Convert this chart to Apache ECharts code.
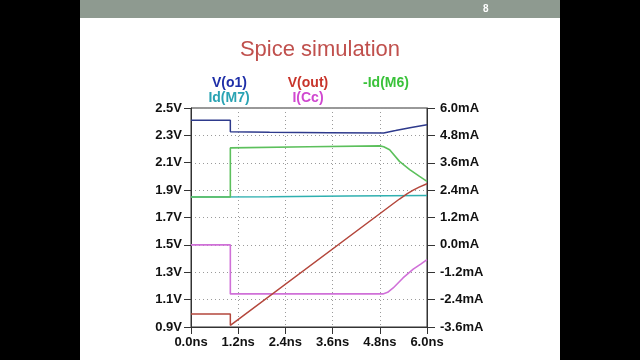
<!DOCTYPE html>
<html>
<head>
<meta charset="utf-8">
<script src="https://cdn.jsdelivr.net/npm/echarts@6/dist/echarts.min.js"></script>
<style>
html,body{margin:0;padding:0;background:#000;}
#c{width:640px;height:360px;}
</style>
</head>
<body>
<div id="c"></div>
<script>
// ---- data (time in ns) ----
const xTicks = [0, 1.2, 2.4, 3.6, 4.8, 6.0];
const leftTicks = [0.9, 1.1, 1.3, 1.5, 1.7, 1.9, 2.1, 2.3, 2.5];      // V
const rightTicks = [-3.6, -2.4, -1.2, 0.0, 1.2, 2.4, 3.6, 4.8, 6.0];  // mA

// V(o1) [V]
const vo1T = [0, 1.0, 1.0, 2.0, 3.5, 4.9, 5.2, 5.6, 6.0];
const vo1V = [2.41, 2.41, 2.327, 2.322, 2.32, 2.318, 2.335, 2.358, 2.378];
// V(out) [V]
const voutT = [0, 1.0, 1.0, 5.3, 5.5, 5.65, 5.8, 6.0];
const voutV = [0.995, 0.995, 0.912, 1.835, 1.875, 1.90, 1.922, 1.947];
// -Id(M6) [mA]
const m6T = [0, 1.0, 1.0, 3.0, 4.8, 4.9, 5.05, 5.3, 5.56, 5.81, 6.0];
const m6V = [2.10, 2.10, 4.25, 4.30, 4.34, 4.30, 4.17, 3.66, 3.30, 3.00, 2.78];
// Id(M7) [mA]
const m7T = [0, 2.0, 4.0, 6.0];
const m7V = [2.10, 2.11, 2.14, 2.16];
// I(Cc) [mA]
const ccT = [0, 1.0, 1.0, 4.88, 5.0, 5.14, 5.39, 5.65, 5.85, 6.0];
const ccV = [0.0, 0.0, -2.15, -2.15, -2.08, -1.89, -1.45, -1.06, -0.83, -0.65];

const legendNames = ['V(o1)', 'Id(M7)', 'V(out)', 'I(Cc)', '-Id(M6)'];

function pairs(t, v) { return t.map((x, i) => [x, v[i]]); }

const FONT = '"Liberation Sans", Arial, sans-serif';
const chart = echarts.init(document.getElementById('c'), null, {renderer: 'canvas'});

const axisLabelStyle = {color: '#111', fontFamily: FONT, fontSize: 13, fontWeight: 'bold'};

chart.setOption({
  animation: false,
  backgroundColor: '#000',
  title: {
    text: 'Spice simulation',
    left: 'center',
    top: 34,
    textStyle: {color: '#c0504d', fontFamily: FONT, fontSize: 22, fontWeight: 'normal'}
  },
  graphic: [
    {type: 'rect', z: -10, shape: {x: 80, y: 0, width: 480, height: 360}, style: {fill: '#ffffff'}, silent: true},
    {type: 'rect', z: -9, shape: {x: 80, y: 0, width: 480, height: 18}, style: {fill: '#8e9a90'}, silent: true},
    {type: 'text', z: 10, left: 483, top: 4, style: {text: '8', fill: '#fff', font: 'bold 10px ' + FONT}},
    {type: 'text', z: 10, x: 229.5, y: 83, style: {text: legendNames[0], fill: '#1f2fa8', font: 'bold 14px ' + FONT, textAlign: 'center', textVerticalAlign: 'middle'}},
    {type: 'text', z: 10, x: 229, y: 98.5, style: {text: legendNames[1], fill: '#2aa3b3', font: 'bold 14px ' + FONT, textAlign: 'center', textVerticalAlign: 'middle'}},
    {type: 'text', z: 10, x: 308, y: 83, style: {text: legendNames[2], fill: '#c8352b', font: 'bold 14px ' + FONT, textAlign: 'center', textVerticalAlign: 'middle'}},
    {type: 'text', z: 10, x: 308, y: 98.5, style: {text: legendNames[3], fill: '#d048d0', font: 'bold 14px ' + FONT, textAlign: 'center', textVerticalAlign: 'middle'}},
    {type: 'text', z: 10, x: 386, y: 83, style: {text: legendNames[4], fill: '#3ac23a', font: 'bold 14px ' + FONT, textAlign: 'center', textVerticalAlign: 'middle'}}
  ],
  grid: {
    left: 191, right: 213, top: 108, bottom: 33,
    show: true, borderColor: '#333', borderWidth: 1, backgroundColor: 'transparent'
  },
  xAxis: {
    type: 'value', min: 0, max: 6, interval: 1.2,
    axisLine: {show: true, onZero: false, lineStyle: {color: '#333', width: 1}},
    axisTick: {show: true, length: 7, lineStyle: {color: '#333'}},
    axisLabel: Object.assign({margin: 9, formatter: v => v.toFixed(1) + 'ns'}, axisLabelStyle),
    splitLine: {show: true, lineStyle: {color: '#9a9a9a', type: [1, 3], width: 1}}
  },
  yAxis: [
    {
      type: 'value', min: 0.9, max: 2.5, position: 'left',
      axisLine: {show: true, onZero: false, lineStyle: {color: '#333', width: 1}},
      axisTick: {show: true, length: 7, customValues: leftTicks, lineStyle: {color: '#333'}},
      axisLabel: Object.assign({margin: 9, customValues: leftTicks, formatter: v => v.toFixed(1) + 'V'}, axisLabelStyle),
      splitLine: {show: false}
    },
    {
      type: 'value', min: -3.6, max: 6.0, interval: 1.2, position: 'right',
      axisLine: {show: true, onZero: false, lineStyle: {color: '#333', width: 1}},
      axisTick: {show: true, length: 8, lineStyle: {color: '#333'}},
      axisLabel: Object.assign({margin: 13, formatter: v => (Math.abs(v) < 1e-9 ? 0 : v).toFixed(1) + 'mA'}, axisLabelStyle),
      splitLine: {show: true, lineStyle: {color: '#9a9a9a', type: [1, 3], width: 1}}
    }
  ],
  series: [
    {name: legendNames[1], type: 'line', yAxisIndex: 1, showSymbol: false, data: pairs(m7T, m7V), lineStyle: {color: '#2fb0b0', width: 1.5}, itemStyle: {color: '#2fb0b0'}},
    {name: legendNames[4], type: 'line', yAxisIndex: 1, showSymbol: false, data: pairs(m6T, m6V), lineStyle: {color: '#5cc05c', width: 1.6}, itemStyle: {color: '#5cc05c'}},
    {name: legendNames[0], type: 'line', yAxisIndex: 0, showSymbol: false, data: pairs(vo1T, vo1V), lineStyle: {color: '#2e3a8c', width: 1.5}, itemStyle: {color: '#2e3a8c'}},
    {name: legendNames[3], type: 'line', yAxisIndex: 1, showSymbol: false, data: pairs(ccT, ccV), lineStyle: {color: '#d070d8', width: 1.6}, itemStyle: {color: '#d070d8'}},
    {name: legendNames[2], type: 'line', yAxisIndex: 0, showSymbol: false, data: pairs(voutT, voutV), lineStyle: {color: '#b4473c', width: 1.5}, itemStyle: {color: '#b4473c'}}
  ]
});
</script>
</body>
</html>
